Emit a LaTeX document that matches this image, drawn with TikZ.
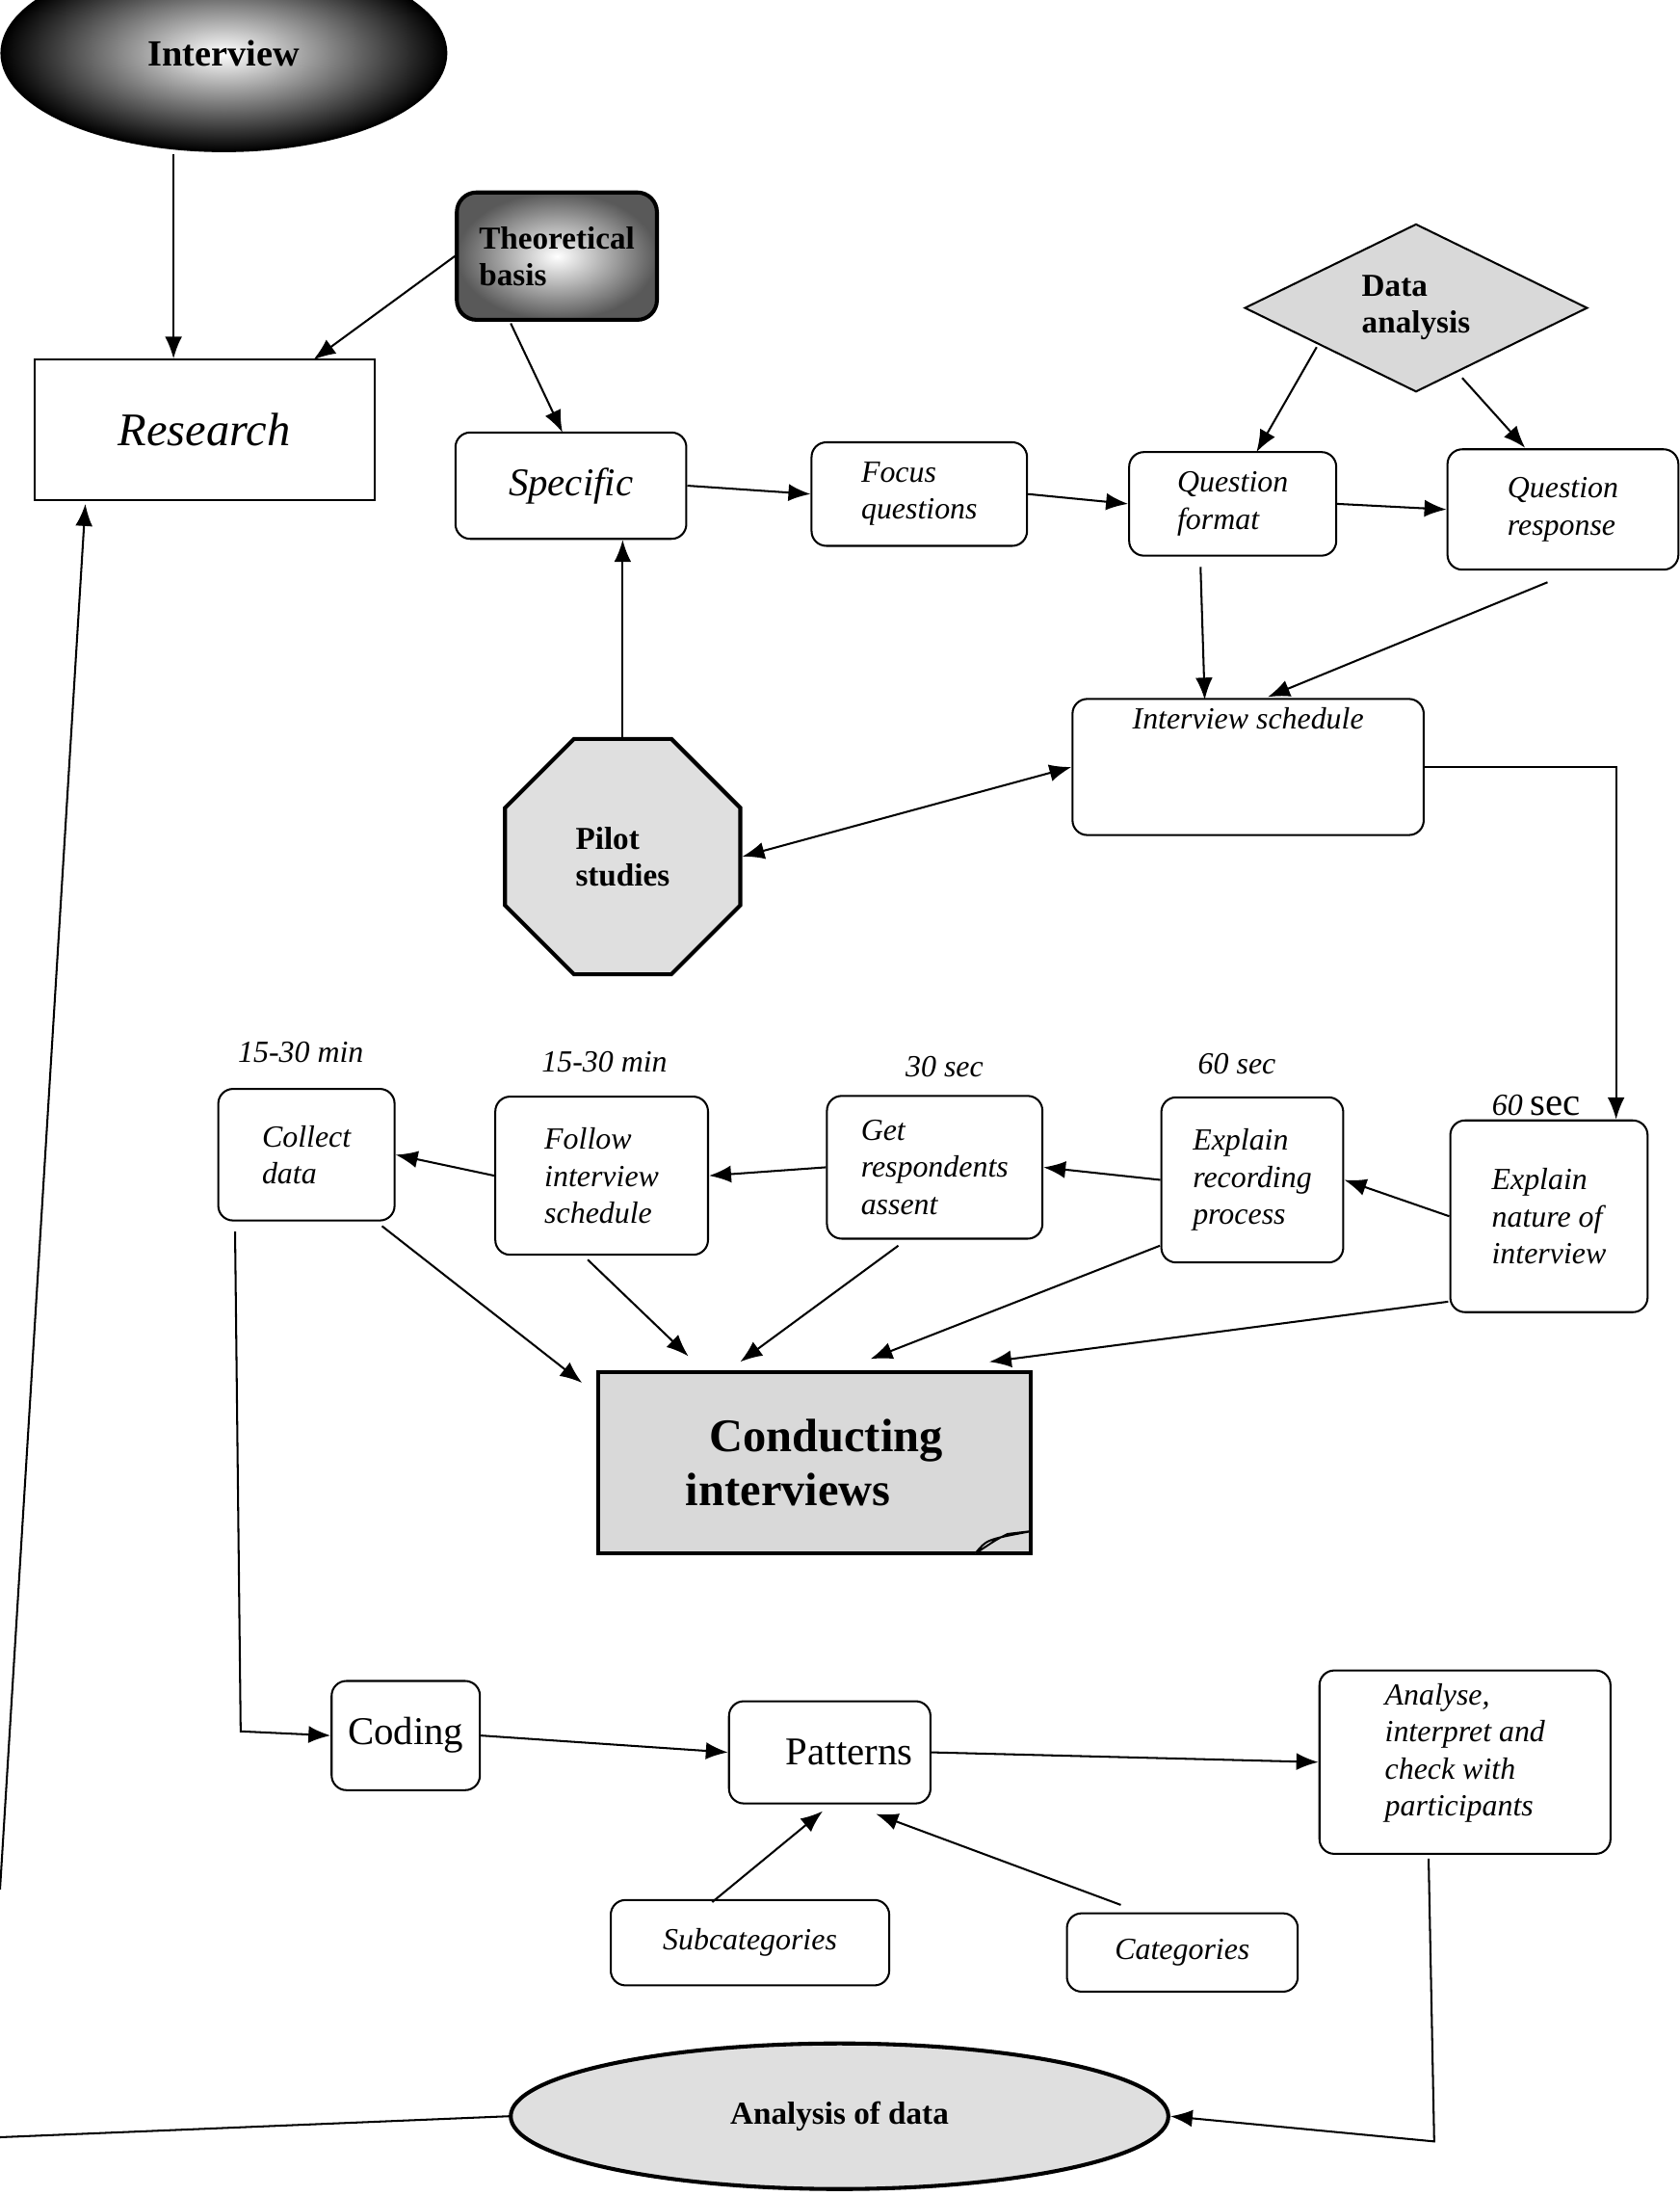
\documentclass[tikz,border=0pt]{standalone}
\usepackage{fontspec}
\setmainfont{Liberation Serif}
\usepackage{tikz}
\usetikzlibrary{shapes.geometric,arrows.meta}
\tikzstyle{box}=[rectangle, draw, rounded corners=6pt, thick, align=left, font=\fontsize{12.5}{15}\selectfont\itshape]
\tikzstyle{tm}=[font=\fontsize{12.5}{15}\selectfont\itshape]
\tikzstyle{arr}=[thick, -{Latex[length=9pt,width=7pt]}]

\begin{document}
\begin{tikzpicture}[x=0.02cm, y=-0.02cm]
  \useasboundingbox (0,0) rectangle (1200,1569);
  % top part
  \node[ellipse, draw, thick, inner color=white, outer color=black, minimum width=318*0.02cm, minimum height=140*0.02cm, font=\fontsize{15}{18}\selectfont\bfseries] (iv) at (160,38) {Interview};
  \node[rectangle, draw, thick, minimum width=243*0.02cm, minimum height=100*0.02cm, font=\fontsize{19}{22}\selectfont\itshape] (res) at (146,307) {Research};
  \node[rectangle, draw, line width=1.6pt, rounded corners=8pt, inner color=white, outer color=gray!70!black, minimum width=143*0.02cm, minimum height=91*0.02cm, align=left, font=\fontsize{13}{15}\selectfont\bfseries] (tb) at (398,183) {Theoretical\\basis};
  \node[diamond, draw, thick, fill=gray!30, aspect=2, minimum width=245*0.02cm, minimum height=120*0.02cm, align=left, font=\fontsize{13}{15}\selectfont\bfseries] (da) at (1012,220) {Data\\analysis};
  \node[box, minimum width=165*0.02cm, minimum height=76*0.02cm, font=\fontsize{16}{18}\selectfont\itshape] (sp) at (408,347) {Specific};
  \node[box, minimum width=154*0.02cm, minimum height=74*0.02cm] (fq) at (657,353) {Focus\\questions};
  \node[box, minimum width=148*0.02cm, minimum height=74*0.02cm] (qf) at (881,360) {Question\\format};
  \node[box, minimum width=165*0.02cm, minimum height=86*0.02cm] (qr) at (1117,364) {Question\\response};
  \node[box, minimum width=251*0.02cm, minimum height=92*0.02cm, text depth=40pt] (is) at (892,548) {Interview schedule};
  \node[regular polygon, regular polygon sides=8, draw, line width=1.6pt, fill=gray!25, minimum size=182*0.02cm, align=left, font=\fontsize{13}{15}\selectfont\bfseries] (ps) at (445,612) {Pilot\\studies};
  % middle row
  \node[box, minimum width=126*0.02cm, minimum height=94*0.02cm] (cd) at (219,825) {Collect\\data};
  \node[box, minimum width=152*0.02cm, minimum height=113*0.02cm] (fs) at (430,840) {Follow\\interview\\schedule};
  \node[box, minimum width=154*0.02cm, minimum height=102*0.02cm] (ga) at (668,834) {Get\\respondents\\assent};
  \node[box, minimum width=130*0.02cm, minimum height=118*0.02cm] (er) at (895,843) {Explain\\recording\\process};
  \node[box, minimum width=141*0.02cm, minimum height=137*0.02cm] (en) at (1107,869) {Explain\\nature of\\interview};
  \node[tm] (t1) at (215,752) {15-30 min};
  \node[tm] (t2) at (432,759) {15-30 min};
  \node[tm] (t3) at (675,762) {30 sec};
  \node[tm] (t4) at (884,760) {60 sec};
  \node[tm] (t5) at (1098,790) {60 \upshape\fontsize{16}{18}\selectfont sec};
  \node[rectangle, draw, line width=1.6pt, fill=gray!30, minimum width=309*0.02cm, minimum height=129*0.02cm, align=left, font=\fontsize{19}{22}\selectfont\bfseries] (ci) at (582,1045) {\ \ Conducting\\interviews};
  \draw[thick, fill=white] (697,1110) .. controls (705,1100) .. (737,1094) -- (720,1096) .. controls (712,1100) .. (697,1110);
  % bottom part
  \node[box, minimum width=106*0.02cm, minimum height=78*0.02cm, font=\fontsize{16}{18}\selectfont\upshape] (co) at (290,1240) {Coding};
  \node[box, minimum width=144*0.02cm, minimum height=73*0.02cm, font=\fontsize{16}{18}\selectfont\upshape] (pa) at (593,1252) {\quad Patterns};
  \node[box, minimum width=208*0.02cm, minimum height=131*0.02cm, text depth=10pt] (an) at (1047,1259) {Analyse,\\interpret and\\check with\\participants};
  \node[box, minimum width=199*0.02cm, minimum height=61*0.02cm] (sc) at (536,1388) {Subcategories};
  \node[box, minimum width=165*0.02cm, minimum height=56*0.02cm] (ca) at (845,1395) {Categories};
  \node[ellipse, draw, line width=1.6pt, fill=gray!25, minimum width=470*0.02cm, minimum height=104*0.02cm, font=\fontsize{13}{15}\selectfont\bfseries] (ad) at (600,1512) {Analysis of data};
  \coordinate (c1) at (1155,548);
  \coordinate (c2) at (172,1237);
  \coordinate (c3) at (1025,1530);
  \coordinate (c4) at (0,1527);
  \coordinate (c5) at (0,1350);
  % connectors
  \draw[arr] (124,110) -- (res.north -| 124,0);
  \draw[arr] (tb.west) -- (224,257);
  \draw[arr] (365,231) -- (402,309);
  \draw[arr] (sp.east) -- (fq.west);
  \draw[arr] (fq.east) -- (qf.west);
  \draw[arr] (qf.east) -- (qr.west);
  \draw[arr] (941,248) -- (898,323);
  \draw[arr] (1045,270) -- (1090,320);
  \draw[arr] (858,405) -- (861,500);
  \draw[arr] (1106,416) -- (906,498);
  \draw[arr] (ps.north) -- (sp.south -| ps.north);
  \draw[thick, {Latex[length=9pt,width=7pt]}-{Latex[length=9pt,width=7pt]}] (ps.east) -- (is.west);
  \draw[arr] (is.east) -- (c1) -- (en.north -| c1);
  \draw[arr] (en.west) -- (er.east);
  \draw[arr] (er.west) -- (ga.east);
  \draw[arr] (ga.west) -- (fs.east);
  \draw[arr] (fs.west) -- (cd.east);
  \draw[arr] (273,876) -- (416,988);
  \draw[arr] (420,900) -- (492,969);
  \draw[arr] (642,890) -- (529,973);
  \draw[arr] (829,890) -- (622,971);
  \draw[arr] (1035,930) -- (707,973);
  \draw[arr] (168,880) -- (c2) -- (co.west);
  \draw[arr] (co.east) -- (pa.west);
  \draw[arr] (pa.east) -- (an.west);
  \draw[arr] (509,1359) -- (588,1294);
  \draw[arr] (801,1361) -- (626,1296);
  \draw[arr] (1021,1328) -- (c3) -- (ad.east);
  \draw[thick] (ad.west) -- (c4);
  \draw[arr] (c5) -- (61,360);
\end{tikzpicture}
\end{document}
